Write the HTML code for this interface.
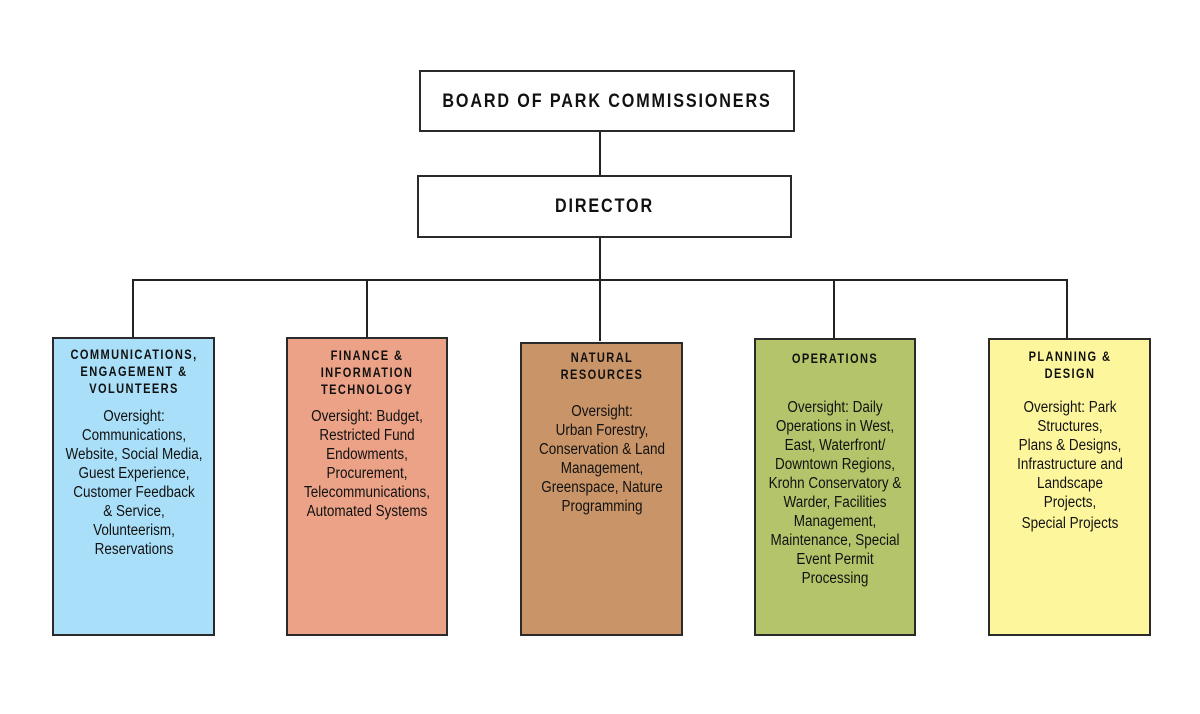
<!DOCTYPE html>
<html><head><meta charset="utf-8"><style>
body{margin:0;width:1200px;height:714px;background:#fff;position:relative;overflow:hidden;font-family:"Liberation Sans",Arial,sans-serif;color:#111}
.b{position:absolute;box-sizing:border-box;border:2px solid #2a2a2a}
.l{position:absolute;background:#222}
.t{position:absolute;left:50%;width:240px;margin-left:-120px;text-align:center;transform-origin:center top;white-space:nowrap}
.h{font-weight:bold;font-size:13.5px;letter-spacing:1.7px;line-height:17px;transform:scaleX(0.82)}
.p{font-size:15.5px;line-height:19px;transform:scaleX(0.87)}
.top{font-weight:bold;font-size:19px;letter-spacing:2.2px;text-align:center;position:absolute;left:-50px;right:-50px;white-space:nowrap;transform:scaleX(0.85)}
</style></head><body>
<div class="l" style="left:599px;top:131px;width:2px;height:45px"></div>
<div class="l" style="left:599px;top:237px;width:2px;height:104px"></div>
<div class="l" style="left:133px;top:279px;width:935px;height:1.5px"></div>
<div class="l" style="left:132px;top:279px;width:2px;height:59px"></div>
<div class="l" style="left:366px;top:279px;width:2px;height:59px"></div>
<div class="l" style="left:833px;top:279px;width:2px;height:59px"></div>
<div class="l" style="left:1066px;top:279px;width:2px;height:59px"></div>

<div class="b" style="left:419px;top:70px;width:376px;height:62px"><div class="top" style="top:19px">BOARD OF PARK COMMISSIONERS</div></div>
<div class="b" style="left:417px;top:175px;width:375px;height:63px"><div class="top" style="top:19px">DIRECTOR</div></div>

<div class="b" style="left:52px;top:337px;width:163px;height:299px;background:#a9dff8">
<div class="t h" style="top:7px">COMMUNICATIONS,<br>ENGAGEMENT &amp;<br>VOLUNTEERS</div>
<div class="t p" style="top:68px">Oversight:<br>Communications,<br>Website, Social Media,<br>Guest Experience,<br>Customer Feedback<br>&amp; Service,<br>Volunteerism,<br>Reservations</div></div>

<div class="b" style="left:286px;top:337px;width:162px;height:299px;background:#eba287">
<div class="t h" style="top:8px">FINANCE &amp;<br>INFORMATION<br>TECHNOLOGY</div>
<div class="t p" style="top:68px">Oversight: Budget,<br>Restricted Fund<br>Endowments,<br>Procurement,<br>Telecommunications,<br>Automated Systems</div></div>

<div class="b" style="left:520px;top:342px;width:163px;height:294px;background:#c99467">
<div class="t h" style="top:5px">NATURAL<br>RESOURCES</div>
<div class="t p" style="top:58px">Oversight:<br>Urban Forestry,<br>Conservation &amp; Land<br>Management,<br>Greenspace, Nature<br>Programming</div></div>

<div class="b" style="left:754px;top:338px;width:162px;height:298px;background:#b3c46a">
<div class="t h" style="top:10px">OPERATIONS</div>
<div class="t p" style="top:58px">Oversight: Daily<br>Operations in West,<br>East, Waterfront/<br>Downtown Regions,<br>Krohn Conservatory &amp;<br>Warder, Facilities<br>Management,<br>Maintenance, Special<br>Event Permit<br>Processing</div></div>

<div class="b" style="left:988px;top:338px;width:163px;height:298px;background:#fdf69d">
<div class="t h" style="top:8px">PLANNING &amp;<br>DESIGN</div>
<div class="t p" style="top:58px">Oversight: Park<br>Structures,<br>Plans &amp; Designs,<br>Infrastructure and<br>Landscape<br>Projects,<br><span style="display:inline-block;margin-top:2px">Special Projects</span></div></div>
</body></html>
